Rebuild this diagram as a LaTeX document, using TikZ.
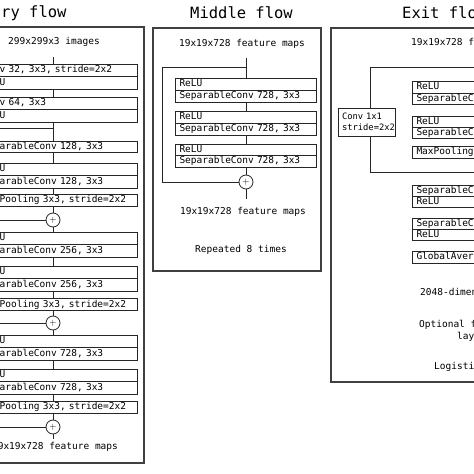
\documentclass[tikz,border=0pt]{standalone}
\usepackage{fontspec}
\setmonofont{DejaVu Sans Mono}
\begin{document}
\begin{tikzpicture}[x=1pt,y=-1pt,
  lay/.style={draw=black!85, line width=0.8pt, font=\ttfamily\fontsize{9.5}{10}\selectfont,
    inner xsep=4.5pt, inner ysep=0pt, outer sep=0pt, anchor=north west, align=left,
    text height=7pt, text depth=2pt},
  ebox/.style={lay, text width=150pt, minimum height=12.5pt},
  mbox/.style={lay, text width=132pt, minimum height=12pt},
  xbox/.style={lay, text width=152pt, minimum height=11pt},
  circ/.style={circle, draw=black!85, line width=0.8pt, minimum size=14pt, inner sep=0pt,
    font=\fontsize{9}{9}\selectfont},
  conn/.style={draw=black!85, line width=0.8pt},
  outer/.style={draw=black!75, line width=1.2pt, anchor=north west, inner sep=0pt, outer sep=0pt},
  lbl/.style={font=\ttfamily\fontsize{9.5}{10}\selectfont, inner sep=0pt},
  ttl/.style={font=\ttfamily\fontsize{15.5}{16}\selectfont, inner sep=0pt}
]
\useasboundingbox (0,0) rectangle (474,474);
\clip (0,0) rectangle (474,474);
\fill[white] (0,0) rectangle (474,474);

% outer frames
\node[outer, minimum width=184pt, minimum height=436pt] (entrybox) at (-40,27) {};
\node[outer, minimum width=168pt, minimum height=243pt] (middlebox) at (153,28) {};
\node[outer, minimum width=209pt, minimum height=354pt] (exitbox) at (331,28) {};

% titles
\node[ttl, anchor=west] (t1) at (-27,13) {Entry flow};
\node[ttl] (t2) at (241.5,13) {Middle flow};
\node[ttl, anchor=west] (t3) at (402,13) {Exit flow};

% ---------------- Entry flow ----------------
\coordinate (ex) at (53,0);
\node[lbl] (ein) at (54,42) {299x299x3 images};
\coordinate (es0) at (53,57);
\node[ebox] (e1a) at (-22,64) {Conv 32, 3x3, stride=2x2};
\node[ebox] (e1b) at (e1a.south west) {ReLU};
\node[ebox] (e2a) at (-22,97) {Conv 64, 3x3};
\node[ebox] (e2b) at (e2a.south west) {ReLU};
\node[ebox, minimum height=11.5pt] (e3) at (-22,141) {SeparableConv 128, 3x3};
\node[ebox] (e4a) at (-22,163) {ReLU};
\node[ebox] (e4b) at (e4a.south west) {SeparableConv 128, 3x3};
\node[ebox, minimum height=12pt] (e5) at (-22,194) {\mbox{MaxPooling 3x3, stride=2x2}};
\node[circ] (p1) at (53,220) {+};
\node[ebox] (e6a) at (-22,232) {ReLU};
\node[ebox] (e6b) at (e6a.south west) {SeparableConv 256, 3x3};
\node[ebox] (e7a) at (-22,266) {ReLU};
\node[ebox] (e7b) at (e7a.south west) {SeparableConv 256, 3x3};
\node[ebox, minimum height=12pt] (e8) at (-22,298.5) {\mbox{MaxPooling 3x3, stride=2x2}};
\node[circ] (p2) at (53,323) {+};
\node[ebox] (e9a) at (-22,335) {ReLU};
\node[ebox] (e9b) at (e9a.south west) {SeparableConv 728, 3x3};
\node[ebox] (e10a) at (-22,369) {ReLU};
\node[ebox] (e10b) at (e10a.south west) {SeparableConv 728, 3x3};
\node[ebox, minimum height=12pt] (e11) at (-22,401) {\mbox{MaxPooling 3x3, stride=2x2}};
\node[circ] (p3) at (53,427) {+};
\coordinate (eend) at (53,439);
\node[lbl] (eout) at (55,447) {19x19x728 feature maps};

\coordinate (split1) at (53,128);
\coordinate (r1) at (-30,128);
\coordinate (r1b) at (-30,220);
\coordinate (r2b) at (-30,323);
\coordinate (r3b) at (-30,427);

\draw[conn] (es0) -- (ex |- e1a.north);
\draw[conn] (ex |- e1b.south) -- (ex |- e2a.north);
\draw[conn] (ex |- e2b.south) -- (ex |- e3.north);
\draw[conn] (split1) -- (r1);
\draw[conn] (ex |- e3.south) -- (ex |- e4a.north);
\draw[conn] (ex |- e4b.south) -- (ex |- e5.north);
\draw[conn] (ex |- e5.south) -- (p1.north);
\draw[conn] (r1b) -- (p1.west);
\draw[conn] (p1.south) -- (ex |- e6a.north);
\draw[conn] (ex |- e6b.south) -- (ex |- e7a.north);
\draw[conn] (ex |- e7b.south) -- (ex |- e8.north);
\draw[conn] (ex |- e8.south) -- (p2.north);
\draw[conn] (r2b) -- (p2.west);
\draw[conn] (p2.south) -- (ex |- e9a.north);
\draw[conn] (ex |- e9b.south) -- (ex |- e10a.north);
\draw[conn] (ex |- e10b.south) -- (ex |- e11.north);
\draw[conn] (ex |- e11.south) -- (p3.north);
\draw[conn] (r3b) -- (p3.west);
\draw[conn] (p3.south) -- (eend);

% ---------------- Middle flow ----------------
\coordinate (mx) at (246,0);
\node[lbl] (min) at (242,44) {19x19x728 feature maps};
\coordinate (mt) at (246,58);
\coordinate (ml1) at (246,67);
\coordinate (ml2) at (162,67);
\coordinate (ml3) at (162,182);
\node[mbox] (m1a) at (175,78) {ReLU};
\node[mbox] (m1b) at (m1a.south west) {SeparableConv 728, 3x3};
\node[mbox] (m2a) at (175,111) {ReLU};
\node[mbox] (m2b) at (m2a.south west) {SeparableConv 728, 3x3};
\node[mbox, minimum height=11.5pt] (m3a) at (175,144) {ReLU};
\node[mbox, minimum height=11.5pt] (m3b) at (m3a.south west) {SeparableConv 728, 3x3};
\node[circ] (mp) at (246,182) {+};
\coordinate (mb) at (246,199);
\node[lbl] (mout) at (243,212) {19x19x728 feature maps};
\node[lbl] (mrep) at (241,250) {Repeated 8 times};

\draw[conn] (mt) -- (mx |- m1a.north);
\draw[conn] (ml1) -- (ml2) -- (ml3) -- (mp.west);
\draw[conn] (mx |- m1b.south) -- (mx |- m2a.north);
\draw[conn] (mx |- m2b.south) -- (mx |- m3a.north);
\draw[conn] (mx |- m3b.south) -- (mp.north);
\draw[conn] (mp.south) -- (mb);

% ---------------- Exit flow ----------------
\coordinate (xx) at (492,0);
\node[lbl, anchor=west] (xin) at (411,43) {19x19x728 feature maps};
\coordinate (xr0) at (500,67);
\coordinate (xr1) at (370,67);
\coordinate (xr2) at (370,172);
\coordinate (xr3) at (500,172);
\node[lay, font=\ttfamily\fontsize{8.8}{10.5}\selectfont, text width=50pt, inner xsep=3.5pt,
      minimum height=28pt, text height=, text depth=] (c11) at (338.5,108) {Conv 1x1\\stride=2x2};
\node[xbox, minimum height=12pt] (x1a) at (412,81) {ReLU};
\node[xbox] (x1b) at (x1a.south west) {SeparableConv 728, 3x3};
\node[xbox] (x2a) at (412,116) {ReLU};
\node[xbox] (x2b) at (x2a.south west) {SeparableConv 1024, 3x3};
\node[xbox, minimum height=12pt] (x3) at (412,146) {\mbox{MaxPooling 3x3, stride=2x2}};
\node[xbox] (x4a) at (412,185) {SeparableConv 1536, 3x3};
\node[xbox] (x4b) at (x4a.south west) {ReLU};
\node[xbox] (x5a) at (412,218) {SeparableConv 2048, 3x3};
\node[xbox] (x5b) at (x5a.south west) {ReLU};
\node[xbox, minimum height=12pt] (x6) at (412,251) {GlobalAveragePooling};
\node[lbl, anchor=west] (xv) at (420,292) {2048-dimensional vectors};
\node[lbl, anchor=west] (xo1) at (419,325) {Optional fully-connected};
\node[lbl, anchor=west] (xo2) at (457,337) {layer(s)};
\node[lbl, anchor=west] (xlog) at (434,367) {Logistic regression};

\draw[conn] (xr0) -- (xr1) -- (xr1 |- c11.north);
\draw[conn] (xr1 |- c11.south) -- (xr2) -- (xr3);
\draw[conn] (xx |- x1b.south) -- (xx |- x2a.north);
\draw[conn] (xx |- x2b.south) -- (xx |- x3.north);
\draw[conn] (xx |- x4b.south) -- (xx |- x5a.north);
\draw[conn] (xx |- x5b.south) -- (xx |- x6.north);
\end{tikzpicture}
\end{document}
